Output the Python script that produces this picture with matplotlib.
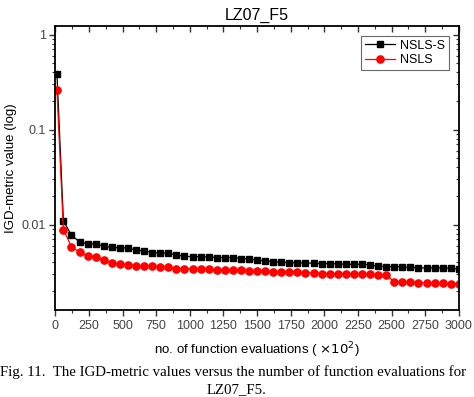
import matplotlib
matplotlib.use('Agg')
import matplotlib.pyplot as plt
from matplotlib.ticker import LogLocator, NullFormatter, FixedLocator, MultipleLocator

# 数据：函数评估次数 (x100) 与 IGD 值
evals = [12] + list(range(60, 3001, 60))
nsls_s = [0.388,
          0.0110, 0.00772, 0.00658, 0.00626, 0.00626, 0.00591, 0.00577, 0.00569, 0.00569, 0.00536,
          0.00529, 0.00507, 0.00504, 0.00499, 0.00480, 0.00464, 0.00460, 0.00460, 0.00457, 0.00450,
          0.00450, 0.00450, 0.00438, 0.00435, 0.00421, 0.00418, 0.00405, 0.00401, 0.00398, 0.00395,
          0.00395, 0.00392, 0.00389, 0.00389, 0.00386, 0.00382, 0.00382, 0.00382, 0.00379, 0.00364,
          0.00361, 0.00361, 0.00359, 0.00355, 0.00350, 0.00350, 0.00350, 0.00350, 0.00347, 0.00340]
nsls = [0.264,
        0.00886, 0.00587, 0.00511, 0.00469, 0.00453, 0.00421, 0.00395, 0.00382, 0.00379, 0.00370,
        0.00364, 0.00364, 0.00359, 0.00355, 0.00344, 0.00342, 0.00342, 0.00342, 0.00342, 0.00334,
        0.00334, 0.00334, 0.00330, 0.00328, 0.00326, 0.00323, 0.00320, 0.00320, 0.00320, 0.00318,
        0.00310, 0.00310, 0.00305, 0.00303, 0.00303, 0.00303, 0.00303, 0.00303, 0.00300, 0.00298,
        0.00293, 0.00251, 0.00251, 0.00249, 0.00245, 0.00243, 0.00241, 0.00241, 0.00239, 0.00237]
series_names = ['NSLS-S', 'NSLS']
xticks = list(range(0, 3001, 250))
yticks = [0.01, 0.1, 1]
ytick_labels = ['0.01', '0.1', '1']

plt.rcParams['font.family'] = ['Liberation Sans', 'DejaVu Sans']

fig = plt.figure(figsize=(4.74, 3.97), dpi=100)
ax = fig.add_axes([0.1167, 0.219, 0.968 - 0.1167, 0.935 - 0.219])

ax.plot(evals, nsls_s, color='black', marker='s', markersize=4.5, linewidth=0.9, label=series_names[0])
ax.plot(evals, nsls, color='#ff0000', marker='o', markersize=5.2, linewidth=0.9, label=series_names[1])

ax.set_yscale('log')
ax.set_xlim(0, 3000)
ax.set_ylim(0.00126, 1.24)

ax.xaxis.set_major_locator(FixedLocator(xticks))
ax.xaxis.set_minor_locator(MultipleLocator(125))
ax.yaxis.set_major_locator(FixedLocator(yticks))
ax.set_yticklabels(ytick_labels)
ax.yaxis.set_minor_locator(LogLocator(base=10, subs=range(2, 10)))
ax.yaxis.set_minor_formatter(NullFormatter())

ax.tick_params(axis='both', which='major', labelsize=9, colors='#333333', labelcolor='#444444', length=4, width=1)
ax.tick_params(axis='both', which='minor', length=2.5, width=0.8, colors='#333333')
ax.tick_params(axis='x', which='both', top=True, direction='out', pad=3)
ax.tick_params(axis='y', which='both', right=True, direction='out', pad=3)
# top / right ticks point inside
for t in ax.xaxis.get_major_ticks() + ax.xaxis.get_minor_ticks():
    t.tick2line.set_marker(matplotlib.lines.TICKDOWN)
for t in ax.yaxis.get_major_ticks() + ax.yaxis.get_minor_ticks():
    t.tick2line.set_marker(matplotlib.lines.TICKLEFT)

for s in ax.spines.values():
    s.set_linewidth(1.3)

ax.set_title('LZ07_F5', fontsize=11.5, pad=4)
ax.set_ylabel('IGD-metric value (log)', fontsize=9.5, labelpad=3)
ax.set_xlabel(r'no. of function evaluations ( $\times 10^2$)', fontsize=9.5, labelpad=6)

leg = ax.legend(loc='upper right', fontsize=9, frameon=True, fancybox=False,
                edgecolor='#444444', borderaxespad=0.8, handlelength=2.4,
                borderpad=0.3, labelspacing=0.2, handletextpad=0.4)
leg.get_frame().set_linewidth(0.8)

fig.text(0.0, 0.063, 'Fig. 11.  The IGD-metric values versus the number of function evaluations for',
         family=['Liberation Serif', 'DejaVu Serif'], fontsize=10.7, ha='left', va='center')
fig.text(0.5, 0.018, 'LZ07_F5.', family=['Liberation Serif', 'DejaVu Serif'],
         fontsize=10.7, ha='center', va='center')

fig.savefig('out.png', dpi=100)
